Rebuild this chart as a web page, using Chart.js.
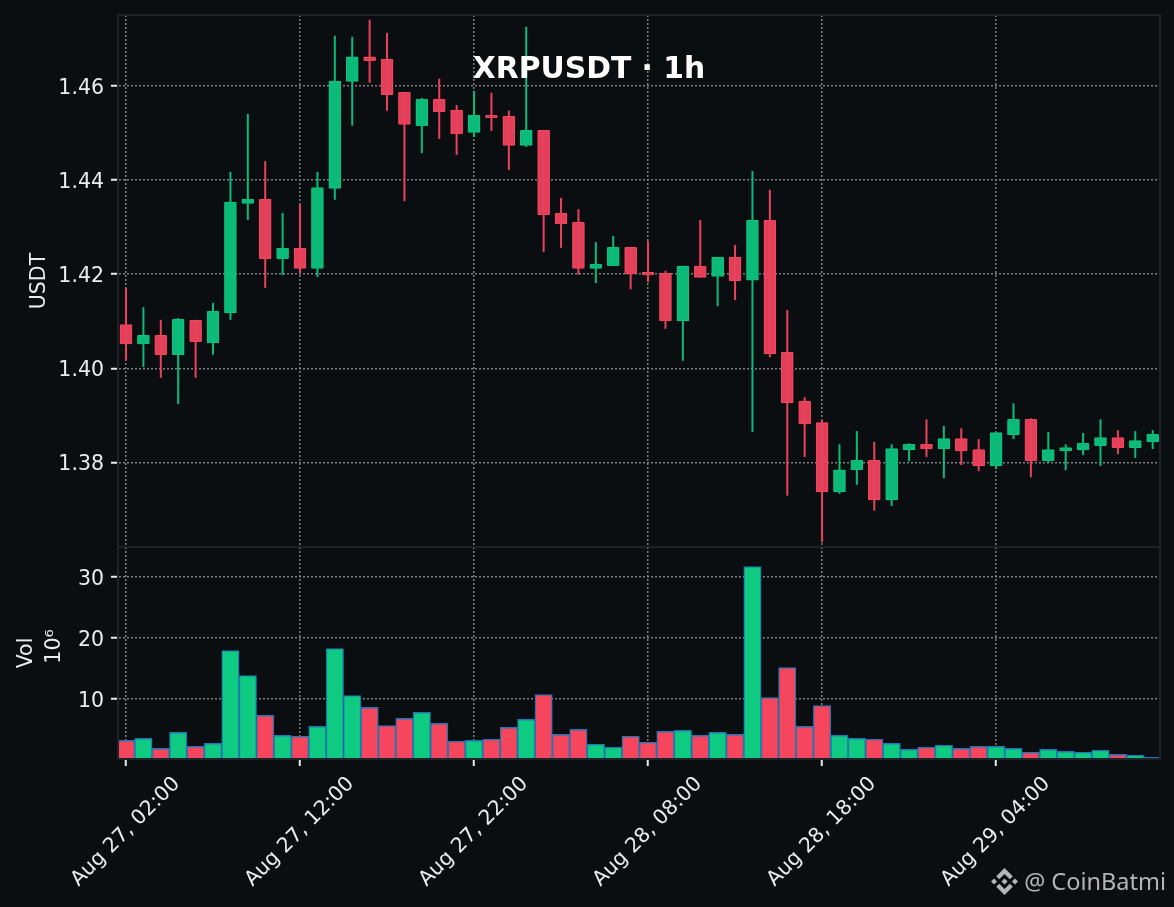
<!DOCTYPE html>
<html>
<head>
<meta charset="utf-8">
<title>XRPUSDT 1h</title>
<script src="https://cdn.jsdelivr.net/npm/chart.js@4/dist/chart.umd.min.js"></script>
<style>
	html, body { margin: 0; background: #0b0e11; }
	#wrap { position: relative; width: 1174px; height: 907px; overflow: hidden; }
	#mark { position: absolute; right: 8px; top: 864px; height: 34px; display: flex; align-items: center; color: #b4b5b6; font: 23.5px "Noto Sans", sans-serif; white-space: nowrap; }
	#mark svg { width: 27px; height: 27px; fill: #b4b5b6; margin-right: 6px; }
</style>
</head>
<body>
<div id="wrap">
	<canvas id="candles" width="1174" height="907"></canvas>
	<div id="mark">
		<svg viewBox="0 0 126.61 126.61"><path d="M38.73 53.2l24.59-24.58 24.6 24.6 14.3-14.31L63.32 0 24.42 38.9l14.31 14.3zM0 63.31l14.3-14.3 14.31 14.3-14.31 14.31zM38.73 73.41l24.59 24.59 24.6-24.6 14.31 14.29-38.9 38.91-38.91-38.88-.02-.02 14.33-14.29zM98 63.31l14.3-14.3 14.31 14.3-14.31 14.31z"/><path d="M77.83 63.3L63.32 48.78 52.59 59.51l-1.24 1.23-2.54 2.54 14.51 14.5 14.51-14.47z"/></svg>
		<span>@ CoinBatmi</span>
	</div>
</div>
<script>
var times = [
	"Aug 27, 02:00", "Aug 27, 03:00", "Aug 27, 04:00", "Aug 27, 05:00", "Aug 27, 06:00", "Aug 27, 07:00",
	"Aug 27, 08:00", "Aug 27, 09:00", "Aug 27, 10:00", "Aug 27, 11:00", "Aug 27, 12:00", "Aug 27, 13:00",
	"Aug 27, 14:00", "Aug 27, 15:00", "Aug 27, 16:00", "Aug 27, 17:00", "Aug 27, 18:00", "Aug 27, 19:00",
	"Aug 27, 20:00", "Aug 27, 21:00", "Aug 27, 22:00", "Aug 27, 23:00", "Aug 28, 00:00", "Aug 28, 01:00",
	"Aug 28, 02:00", "Aug 28, 03:00", "Aug 28, 04:00", "Aug 28, 05:00", "Aug 28, 06:00", "Aug 28, 07:00",
	"Aug 28, 08:00", "Aug 28, 09:00", "Aug 28, 10:00", "Aug 28, 11:00", "Aug 28, 12:00", "Aug 28, 13:00",
	"Aug 28, 14:00", "Aug 28, 15:00", "Aug 28, 16:00", "Aug 28, 17:00", "Aug 28, 18:00", "Aug 28, 19:00",
	"Aug 28, 20:00", "Aug 28, 21:00", "Aug 28, 22:00", "Aug 28, 23:00", "Aug 29, 00:00", "Aug 29, 01:00",
	"Aug 29, 02:00", "Aug 29, 03:00", "Aug 29, 04:00", "Aug 29, 05:00", "Aug 29, 06:00", "Aug 29, 07:00",
	"Aug 29, 08:00", "Aug 29, 09:00", "Aug 29, 10:00", "Aug 29, 11:00", "Aug 29, 12:00", "Aug 29, 13:00"
];

var opens = [
	1.4093, 1.4052, 1.4070, 1.4029, 1.4102, 1.4054, 1.4118, 1.4350, 1.4359, 1.4233,
	1.4255, 1.4212, 1.4382, 1.4609, 1.4661, 1.4656, 1.4586, 1.4515, 1.4571, 1.4548,
	1.4501, 1.4537, 1.4535, 1.4473, 1.4505, 1.4329, 1.4310, 1.4212, 1.4218, 1.4257,
	1.4204, 1.4202, 1.4101, 1.4217, 1.4195, 1.4236, 1.4187, 1.4314, 1.4034, 1.3930,
	1.3885, 1.3738, 1.3785, 1.3805, 1.3721, 1.3827, 1.3839, 1.3829, 1.3851, 1.3828,
	1.3793, 1.3859, 1.3892, 1.3804, 1.3825, 1.3827, 1.3836, 1.3853, 1.3832, 1.3844
];
var closes = [
	1.4052, 1.4070, 1.4029, 1.4104, 1.4057, 1.4121, 1.4353, 1.4359, 1.4233, 1.4255,
	1.4212, 1.4384, 1.4610, 1.4661, 1.4653, 1.4581, 1.4518, 1.4571, 1.4545, 1.4498,
	1.4537, 1.4532, 1.4473, 1.4505, 1.4326, 1.4307, 1.4212, 1.4221, 1.4257, 1.4201,
	1.4199, 1.4101, 1.4217, 1.4193, 1.4236, 1.4186, 1.4314, 1.4031, 1.3927, 1.3882,
	1.3738, 1.3785, 1.3805, 1.3721, 1.3830, 1.3839, 1.3829, 1.3851, 1.3825, 1.3793,
	1.3864, 1.3892, 1.3804, 1.3828, 1.3832, 1.3841, 1.3853, 1.3832, 1.3847, 1.3860
];
var highs = [
	1.4171, 1.4130, 1.4103, 1.4107, 1.4103, 1.4139, 1.4417, 1.4540, 1.4440, 1.4330,
	1.4347, 1.4417, 1.4706, 1.4704, 1.4740, 1.4712, 1.4586, 1.4574, 1.4615, 1.4559,
	1.4589, 1.4585, 1.4547, 1.4725, 1.4505, 1.4362, 1.4338, 1.4268, 1.4281, 1.4257,
	1.4270, 1.4207, 1.4217, 1.4315, 1.4236, 1.4262, 1.4419, 1.4379, 1.4124, 1.3939,
	1.3890, 1.3839, 1.3867, 1.3844, 1.3839, 1.3841, 1.3892, 1.3878, 1.3873, 1.3850,
	1.3864, 1.3926, 1.3894, 1.3865, 1.3839, 1.3863, 1.3892, 1.3869, 1.3867, 1.3869
];
var lows = [
	1.4017, 1.4003, 1.3980, 1.3924, 1.3980, 1.4029, 1.4103, 1.4315, 1.4171, 1.4198,
	1.4202, 1.4194, 1.4358, 1.4515, 1.4606, 1.4547, 1.4355, 1.4457, 1.4487, 1.4453,
	1.4491, 1.4504, 1.4421, 1.4470, 1.4247, 1.4256, 1.4199, 1.4181, 1.4218, 1.4168,
	1.4183, 1.4084, 1.4016, 1.4193, 1.4132, 1.4145, 1.3865, 1.4024, 1.3730, 1.3812,
	1.3631, 1.3734, 1.3753, 1.3698, 1.3708, 1.3803, 1.3812, 1.3767, 1.3795, 1.3782,
	1.3786, 1.3850, 1.3769, 1.3799, 1.3784, 1.3816, 1.3793, 1.3818, 1.3810, 1.3829
];
// volume in millions
var volumes = [
	3.24, 3.57, 1.93, 4.55, 2.26, 2.75, 17.96, 13.87, 7.33, 4.06,
	3.90, 5.53, 18.28, 10.60, 8.64, 5.69, 6.84, 7.82, 6.02, 3.08,
	3.24, 3.41, 5.37, 6.68, 10.76, 4.22, 5.04, 2.59, 2.10, 3.90,
	2.92, 4.71, 4.88, 4.06, 4.55, 4.22, 31.69, 10.27, 15.18, 5.53,
	8.96, 4.06, 3.57, 3.41, 2.75, 1.77, 2.10, 2.43, 1.93, 2.26,
	2.26, 1.93, 1.28, 1.77, 1.44, 1.28, 1.61, 0.95, 0.79, 0.46
];

var priceTicks = [1.38, 1.40, 1.42, 1.44, 1.46];
var volTicks = [10, 20, 30];
var timeTicks = [0, 10, 20, 30, 40, 50];

var isUp = opens.map(function (o, i) { return closes[i] >= o; });
var bodyFill = isUp.map(function (u) { return u ? '#0cba79' : '#e2405a'; });
var edge = isUp.map(function (u) { return u ? '#0ec47d' : '#f6465d'; });
var wickColor = isUp.map(function (u) { return u ? '#0cba79' : '#ea425b'; });
var volFill = isUp.map(function (u) { return u ? '#0ecb81' : '#f6465d'; });

var wicks = lows.map(function (l, i) { return { x: i, y: [l, highs[i]] }; });
var bodies = opens.map(function (o, i) { return { x: i, y: [o, closes[i]] }; });
var volBars = volumes.map(function (v, i) { return { x: i, y: v }; });

var tickFont = { family: '"DejaVu Sans"', size: 20.5 };
var gridColor = '#7c7f81';
var spineColor = '#1e2329';
var textColor = '#eaecef';

// both y axes keep the fixed left gutter, and no room is reserved for half a tick label
function fitLeftAxis(axis) {
	axis.width = 118;
	axis.paddingTop = 0;
	axis.paddingBottom = 0;
}

// title has to sit above the wicks, and centres on the figure not on the padded box
var titleOnTop = {
	id: 'titleOnTop',
	beforeLayout: function (chart) {
		var block = chart.titleBlock;
		block._layers = function () {
			return [{ z: 5, draw: function () {
				chart.ctx.save();
				chart.ctx.translate(9, 0);
				block.draw();
				chart.ctx.restore();
			} }];
		};
	}
};

// rest of the frame: top, right and the line between the two panels
var frame = {
	id: 'frame',
	afterDatasetsDraw: function (chart) {
		var a = chart.chartArea, c = chart.ctx, split = chart.scales.yVol.top;
		c.save();
		c.strokeStyle = spineColor;
		c.lineWidth = 2;
		c.strokeRect(a.left, a.top, a.right - a.left, a.bottom - a.top);
		c.beginPath();
		c.moveTo(a.left, split);
		c.lineTo(a.right, split);
		c.stroke();
		c.restore();
	}
};

var ctx = document.getElementById("candles").getContext('2d');

var myChart = new Chart(ctx, {
	type: 'bar',
	data: {
		datasets: [
			{
				label: 'wick',
				data: wicks,
				yAxisID: 'y',
				grouped: false,
				barThickness: 2,
				inflateAmount: 0,
				backgroundColor: wickColor
			},
			{
				label: 'body',
				data: bodies,
				yAxisID: 'y',
				grouped: false,
				barThickness: 12,
				backgroundColor: bodyFill,
				borderColor: edge,
				borderWidth: 1.2,
				borderSkipped: false,
				borderRadius: 1
			},
			{
				label: 'Vol',
				data: volBars,
				yAxisID: 'yVol',
				grouped: false,
				barPercentage: 1,
				categoryPercentage: 1,
				backgroundColor: volFill,
				borderColor: '#1f77b4',
				borderWidth: 1.3,
				borderSkipped: false
			}
		]
	},
	options: {
		responsive: false,
		animation: false,
		events: [],
		layout: { padding: { top: 15, right: 14, left: 0, bottom: 0 } },
		plugins: {
			legend: { display: false },
			tooltip: { enabled: false },
			title: {
				display: true,
				text: 'XRPUSDT · 1h',
				color: '#ffffff',
				font: { family: '"DejaVu Sans"', size: 29.8, weight: 'bold' },
				padding: { top: 37, bottom: -72.76 }
			}
		},
		scales: {
			x: {
				type: 'linear',
				offset: false,
				min: -0.46,
				max: 59.42,
				afterBuildTicks: function (axis) {
					axis.ticks = timeTicks.map(function (v) { return { value: v }; });
				},
				afterFit: function (axis) { axis.height = 148; },
				ticks: {
					color: textColor,
					font: tickFont,
					autoSkip: false,
					minRotation: 45,
					maxRotation: 45,
					labelOffset: 51,
					padding: 6,
					callback: function (value) { return times[value]; }
				},
				grid: { offset: false, color: gridColor, lineWidth: 1.5, tickColor: textColor, tickWidth: 2, tickLength: 7 },
				border: { color: spineColor, width: 2, dash: [2, 2] }
			},
			y: {
				stack: 'panels',
				stackWeight: 532,
				weight: 1,
				min: 1.3621,
				max: 1.4750,
				afterBuildTicks: function (axis) {
					axis.ticks = priceTicks.map(function (v) { return { value: v }; });
				},
				afterFit: fitLeftAxis,
				ticks: {
					color: textColor,
					font: tickFont,
					padding: 7,
					labelOffset: 2.5,
					callback: function (value) { return value.toFixed(2); }
				},
				title: {
					display: true,
					text: 'USDT',
					color: textColor,
					font: tickFont,
					padding: { top: 27, bottom: 0 }
				},
				grid: { color: gridColor, lineWidth: 1.5, tickColor: textColor, tickWidth: 2, tickLength: 7 },
				border: { color: spineColor, width: 2, dash: [2, 2] }
			},
			yVol: {
				stack: 'panels',
				stackWeight: 212,
				weight: 0,
				min: 0.2,
				max: 34.9,
				afterBuildTicks: function (axis) {
					axis.ticks = volTicks.map(function (v) { return { value: v }; });
				},
				afterFit: fitLeftAxis,
				ticks: {
					color: textColor,
					font: tickFont,
					padding: 7,
					labelOffset: 2.5,
					callback: function (value) { return String(value); }
				},
				title: {
					display: true,
					text: ['Vol', '\u00A0\u00A010⁶'],
					color: textColor,
					font: { family: '"DejaVu Sans"', size: 20.5, lineHeight: 1.4 },
					padding: { top: 12, bottom: 0 }
				},
				grid: { color: gridColor, lineWidth: 1.5, tickColor: textColor, tickWidth: 2, tickLength: 7 },
				border: { color: spineColor, width: 2, dash: [2, 2] }
			}
		}
	},
	plugins: [titleOnTop, frame]
});
</script>
</body>
</html>
